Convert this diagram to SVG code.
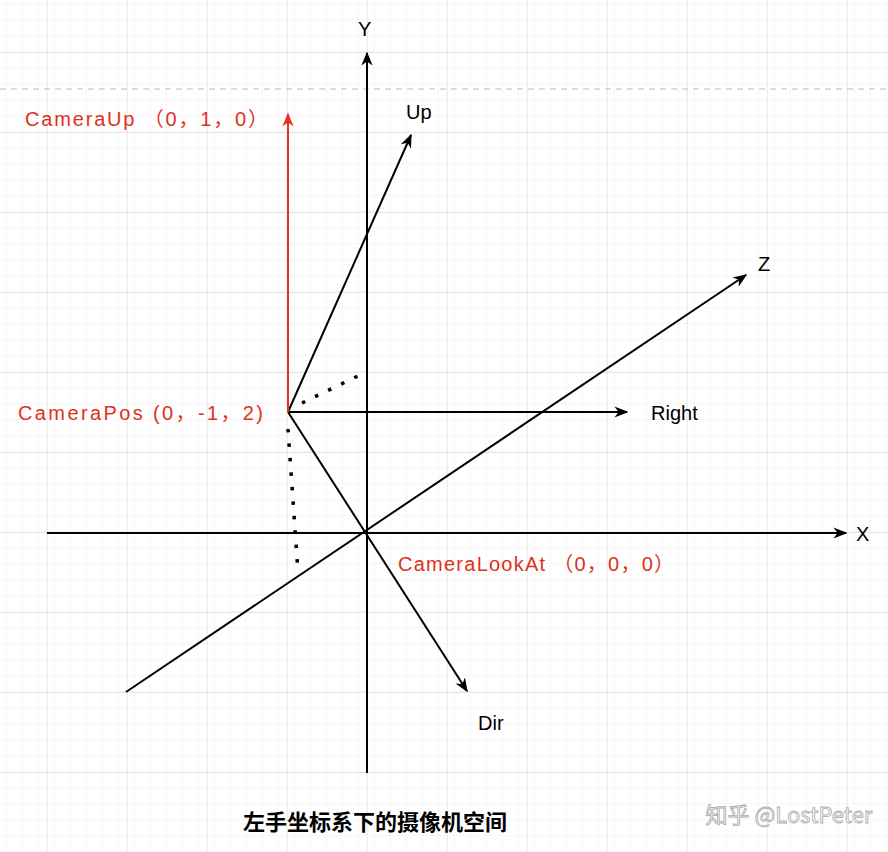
<svg xmlns="http://www.w3.org/2000/svg" width="888" height="852" viewBox="0 0 888 852">
<defs>
<pattern id="minor" x="6.7" y="4" width="16" height="16" patternUnits="userSpaceOnUse"><path d="M16 0V16M0 16H16" fill="none" stroke="#ececec" stroke-width="1"/></pattern>
<pattern id="major" x="46.7" y="52" width="80" height="80" patternUnits="userSpaceOnUse"><path d="M0 0V80M0 0H80" fill="none" stroke="#d0d0d0" stroke-width="1"/></pattern>
<marker id="ah" viewBox="0 0 10 10" refX="9" refY="5" markerWidth="14" markerHeight="14" markerUnits="userSpaceOnUse" orient="auto"><path d="M0 1L10 5L0 9L3 5Z" fill="#000"/></marker>
<marker id="ar" viewBox="0 0 10 10" refX="9" refY="5" markerWidth="14" markerHeight="14" markerUnits="userSpaceOnUse" orient="auto"><path d="M0 1L10 5L0 9L3 5Z" fill="#e8321c"/></marker>
</defs>
<style>
.l{stroke:#000;stroke-width:2;fill:none}
.t{font-family:"Liberation Sans","Noto Sans CJK SC",Arial,sans-serif;font-size:20px}
.r{fill:#e0301c}
.d{stroke:#000;stroke-width:3.5;stroke-dasharray:3.5 11;fill:none}
</style>
<rect width="888" height="852" fill="#fff"/>
<rect width="888" height="852" fill="url(#minor)"/>
<rect width="888" height="852" fill="url(#major)"/>
<line x1="0" y1="89" x2="888" y2="89" stroke="#bbb" stroke-width="1.2" stroke-dasharray="6 5"/>
<g id="connectors">
<line class="l" x1="367" y1="773" x2="367" y2="53" marker-end="url(#ah)"/>
<line class="l" x1="47" y1="533" x2="846" y2="533" marker-end="url(#ah)"/>
<line class="l" x1="126" y1="692" x2="746" y2="275" marker-end="url(#ah)"/>
<line class="l" x1="288" y1="412" x2="627" y2="412" marker-end="url(#ah)"/>
<line class="l" x1="288" y1="412" x2="411" y2="135" marker-end="url(#ah)"/>
<line class="l" x1="288" y1="412" x2="467" y2="691" marker-end="url(#ah)"/>
<line x1="288" y1="412" x2="288" y2="114" stroke="#e8321c" stroke-width="2" marker-end="url(#ar)"/>
<line class="d" x1="302" y1="403" x2="362" y2="374"/>
<line class="d" x1="288" y1="429" x2="298" y2="572"/>
</g>
<g id="labels">
<text class="t" x="358" y="36">Y</text>
<text class="t" x="406" y="119">Up</text>
<text class="t" x="758" y="271">Z</text>
<text class="t" x="651" y="420">Right</text>
<text class="t" x="856" y="541">X</text>
<text class="t" x="478" y="730">Dir</text>
<text class="t r" x="25" y="126" textLength="243">CameraUp （0，1，0）</text>
<text class="t r" x="18" y="420" textLength="245">CameraPos (0，-1，2)</text>
<text class="t r" x="398" y="571" textLength="276">CameraLookAt （0，0，0）</text>
<text x="375" y="830" text-anchor="middle" font-family="'Noto Sans CJK SC',sans-serif" font-size="22" font-weight="bold">左手坐标系下的摄像机空间</text>
<text x="789" y="823" text-anchor="middle" font-family="'Noto Sans CJK SC',sans-serif" font-size="22" fill="#fff" stroke="#aaa" stroke-width="0.8">知乎 @LostPeter</text>
</g>
</svg>
